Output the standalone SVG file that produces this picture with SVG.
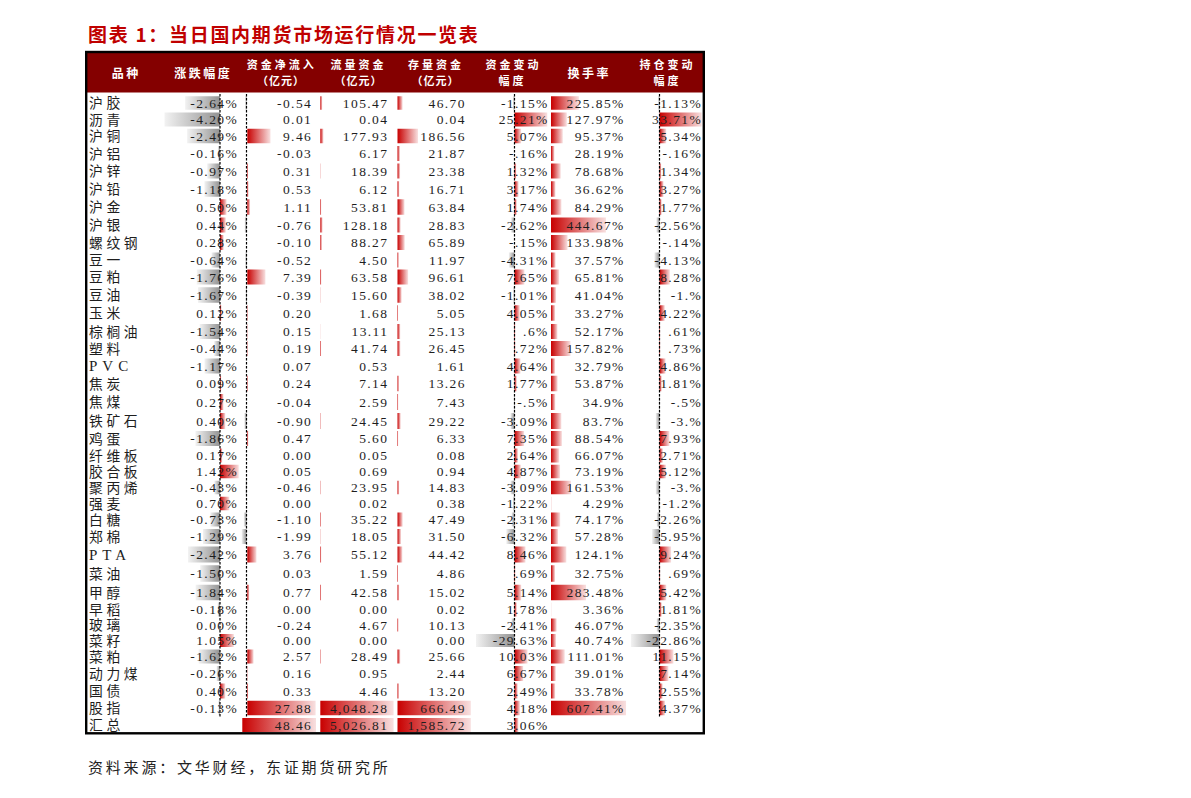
<svg xmlns="http://www.w3.org/2000/svg" width="1191" height="798" viewBox="0 0 1191 798">
<defs>
<linearGradient id="gr" x1="0" y1="0" x2="1" y2="0"><stop offset="0" stop-color="#C80000"/><stop offset="1" stop-color="#F8E0E0"/></linearGradient>
<linearGradient id="gg" x1="0" y1="0" x2="1" y2="0"><stop offset="0" stop-color="#F2F2F2"/><stop offset="1" stop-color="#929292"/></linearGradient>
</defs>
<style>
.r{fill:url(#gr)}
.g{fill:url(#gg)}
.t{font-family:"Liberation Serif",serif;font-size:13.5px;letter-spacing:1.4px;fill:#1e1e1e;text-anchor:end}
.n{font-family:"Liberation Serif","Noto Sans CJK SC",sans-serif;font-size:13.8px;letter-spacing:3.6px;fill:#1e1e1e}
.p{font-family:"Liberation Serif",serif;font-size:15px;letter-spacing:5px;fill:#1e1e1e}
.h{font-family:"Noto Sans CJK SC",sans-serif;font-size:12px;font-weight:700;letter-spacing:2.5px;fill:#fff;text-anchor:middle}
.h2{font-family:"Noto Sans CJK SC",sans-serif;font-size:11px;font-weight:700;letter-spacing:3px;fill:#fff;text-anchor:middle}
.hp{font-family:"Noto Sans CJK SC",sans-serif;font-size:11px;font-weight:700;letter-spacing:1px;fill:#fff;text-anchor:middle}
.ax{stroke:#000;stroke-width:1.2;stroke-dasharray:2.5 1.5;fill:none}
</style>
<rect width="1191" height="798" fill="#fff"/>
<text id="title" x="88" y="42" style="font-family:'Noto Sans CJK SC',sans-serif;font-size:19px;font-weight:700;letter-spacing:1.7px;fill:#C00000">图表 1：当日国内期货市场运行情况一览表</text>

<g id="header">
<rect x="86" y="52" width="618" height="40.5" fill="#840000"/>
<text class="h" x="126.2" y="77.5">品种</text>
<text class="h" x="203.2" y="77.5">涨跌幅度</text>
<text class="h2" x="281.8" y="68.5">资金净流入</text>
<text class="hp" x="281" y="84.5">（亿元）</text>
<text class="h2" x="358.5" y="68.5">流量资金</text>
<text class="hp" x="358.5" y="84.5">（亿元）</text>
<text class="h2" x="436" y="68.5">存量资金</text>
<text class="hp" x="435.5" y="84.5">（亿元）</text>
<text class="h2" x="513.5" y="68.5">资金变动</text>
<text class="h2" x="512.5" y="84.5">幅度</text>
<text class="h" x="589.2" y="77.5">换手率</text>
<text class="h2" x="667.5" y="68.5">持仓变动</text>
<text class="h2" x="667.5" y="84.5">幅度</text>
</g>

<g id="r01" transform="translate(0,103)">
<rect class="g" x="185.15" y="-6.75" width="34.85" height="13.5"/><rect class="g" x="245.2" y="-6.75" width="1.3" height="13.5"/><rect class="r" x="320.3" y="-6.75" width="1.91" height="13.5"/><rect class="r" x="397.5" y="-6.75" width="5.14" height="13.5"/><rect class="g" x="513" y="-6.75" width="1.5" height="13.5"/><rect class="r" x="551" y="-6.75" width="27.89" height="13.5"/><rect class="g" x="658.1" y="-6.75" width="1.41" height="13.5"/>
<text class="n" x="89" y="5.3">沪胶</text><text class="t" x="238.1" y="4.6">-2.64%</text><text class="t" x="312.2" y="4.6">-0.54</text><text class="t" x="388.4" y="4.6">105.47</text><text class="t" x="465.9" y="4.6">46.70</text><text class="t" x="548.7" y="4.6">-1.15%</text><text class="t" x="624.7" y="4.6">225.85%</text><text class="t" x="702.1" y="4.6">-1.13%</text>
</g>
<g id="r02" transform="translate(0,119.5)">
<rect class="g" x="164.56" y="-7" width="55.44" height="14"/><rect class="r" x="514.5" y="-7" width="32.77" height="14"/><rect class="r" x="551" y="-7" width="15.8" height="14"/><rect class="r" x="659.5" y="-7" width="42.14" height="14"/>
<text class="n" x="89" y="5.3">沥青</text><text class="t" x="238.1" y="4.6">-4.20%</text><text class="t" x="312.2" y="4.6">0.01</text><text class="t" x="388.4" y="4.6">0.04</text><text class="t" x="465.9" y="4.6">0.04</text><text class="t" x="548.7" y="4.6">25.21%</text><text class="t" x="624.7" y="4.6">127.97%</text><text class="t" x="702.1" y="4.6">33.71%</text>
</g>
<g id="r03" transform="translate(0,136)">
<rect class="g" x="187.13" y="-7.25" width="32.87" height="14.5"/><rect class="r" x="247.3" y="-7.25" width="23.18" height="14.5"/><rect class="r" x="320.3" y="-7.25" width="3.22" height="14.5"/><rect class="r" x="397.5" y="-7.25" width="20.52" height="14.5"/><rect class="r" x="514.5" y="-7.25" width="6.59" height="14.5"/><rect class="r" x="551" y="-7.25" width="11.78" height="14.5"/><rect class="r" x="659.5" y="-7.25" width="6.68" height="14.5"/>
<text class="n" x="89" y="5.3">沪铜</text><text class="t" x="238.1" y="4.6">-2.49%</text><text class="t" x="312.2" y="4.6">9.46</text><text class="t" x="388.4" y="4.6">177.93</text><text class="t" x="465.9" y="4.6">186.56</text><text class="t" x="548.7" y="4.6">5.07%</text><text class="t" x="624.7" y="4.6">95.37%</text><text class="t" x="702.1" y="4.6">5.34%</text>
</g>
<g id="r04" transform="translate(0,153.5)">
<rect class="g" x="217.89" y="-7.5" width="2.11" height="15"/><rect class="r" x="397.5" y="-7.5" width="2.41" height="15"/><rect class="r" x="551" y="-7.5" width="3.48" height="15"/>
<text class="n" x="89" y="5.3">沪铝</text><text class="t" x="238.1" y="4.6">-0.16%</text><text class="t" x="312.2" y="4.6">-0.03</text><text class="t" x="388.4" y="4.6">6.17</text><text class="t" x="465.9" y="4.6">21.87</text><text class="t" x="548.7" y="4.6">-.16%</text><text class="t" x="624.7" y="4.6">28.19%</text><text class="t" x="702.1" y="4.6">-.16%</text>
</g>
<g id="r05" transform="translate(0,171)">
<rect class="g" x="207.2" y="-7.5" width="12.8" height="15"/><rect class="r" x="247.3" y="-7.5" width="0.76" height="15"/><rect class="r" x="320.3" y="-7.5" width="0.33" height="15"/><rect class="r" x="397.5" y="-7.5" width="2.57" height="15"/><rect class="r" x="514.5" y="-7.5" width="1.72" height="15"/><rect class="r" x="551" y="-7.5" width="9.72" height="15"/><rect class="r" x="659.5" y="-7.5" width="1.68" height="15"/>
<text class="n" x="89" y="5.3">沪锌</text><text class="t" x="238.1" y="4.6">-0.97%</text><text class="t" x="312.2" y="4.6">0.31</text><text class="t" x="388.4" y="4.6">18.39</text><text class="t" x="465.9" y="4.6">23.38</text><text class="t" x="548.7" y="4.6">1.32%</text><text class="t" x="624.7" y="4.6">78.68%</text><text class="t" x="702.1" y="4.6">1.34%</text>
</g>
<g id="r06" transform="translate(0,189)">
<rect class="g" x="204.42" y="-7.75" width="15.58" height="15.5"/><rect class="r" x="247.3" y="-7.75" width="1.3" height="15.5"/><rect class="r" x="397.5" y="-7.75" width="1.84" height="15.5"/><rect class="r" x="514.5" y="-7.75" width="4.12" height="15.5"/><rect class="r" x="551" y="-7.75" width="4.52" height="15.5"/><rect class="r" x="659.5" y="-7.75" width="4.09" height="15.5"/>
<text class="n" x="89" y="5.3">沪铅</text><text class="t" x="238.1" y="4.6">-1.18%</text><text class="t" x="312.2" y="4.6">0.53</text><text class="t" x="388.4" y="4.6">6.12</text><text class="t" x="465.9" y="4.6">16.71</text><text class="t" x="548.7" y="4.6">3.17%</text><text class="t" x="624.7" y="4.6">36.62%</text><text class="t" x="702.1" y="4.6">3.27%</text>
</g>
<g id="r07" transform="translate(0,207)">
<rect class="r" x="220" y="-7.75" width="6.6" height="15.5"/><rect class="r" x="247.3" y="-7.75" width="2.72" height="15.5"/><rect class="r" x="320.3" y="-7.75" width="0.97" height="15.5"/><rect class="r" x="397.5" y="-7.75" width="7.02" height="15.5"/><rect class="r" x="514.5" y="-7.75" width="2.26" height="15.5"/><rect class="r" x="551" y="-7.75" width="10.41" height="15.5"/><rect class="r" x="659.5" y="-7.75" width="2.21" height="15.5"/>
<text class="n" x="89" y="5.3">沪金</text><text class="t" x="238.1" y="4.6">0.50%</text><text class="t" x="312.2" y="4.6">1.11</text><text class="t" x="388.4" y="4.6">53.81</text><text class="t" x="465.9" y="4.6">63.84</text><text class="t" x="548.7" y="4.6">1.74%</text><text class="t" x="624.7" y="4.6">84.29%</text><text class="t" x="702.1" y="4.6">1.77%</text>
</g>
<g id="r08" transform="translate(0,225)">
<rect class="r" x="220" y="-7.5" width="5.81" height="15"/><rect class="g" x="244.64" y="-7.5" width="1.86" height="15"/><rect class="r" x="320.3" y="-7.5" width="2.32" height="15"/><rect class="r" x="397.5" y="-7.5" width="3.17" height="15"/><rect class="g" x="511.09" y="-7.5" width="3.41" height="15"/><rect class="r" x="551" y="-7.5" width="54.92" height="15"/><rect class="g" x="656.3" y="-7.5" width="3.2" height="15"/>
<text class="n" x="89" y="5.3">沪银</text><text class="t" x="238.1" y="4.6">0.44%</text><text class="t" x="312.2" y="4.6">-0.76</text><text class="t" x="388.4" y="4.6">128.18</text><text class="t" x="465.9" y="4.6">28.83</text><text class="t" x="548.7" y="4.6">-2.62%</text><text class="t" x="624.7" y="4.6">444.67%</text><text class="t" x="702.1" y="4.6">-2.56%</text>
</g>
<g id="r09" transform="translate(0,242.5)">
<rect class="r" x="220" y="-7.5" width="3.7" height="15"/><rect class="r" x="320.3" y="-7.5" width="1.6" height="15"/><rect class="r" x="397.5" y="-7.5" width="7.25" height="15"/><rect class="r" x="551" y="-7.5" width="16.55" height="15"/>
<text class="n" x="89" y="5.3">螺纹钢</text><text class="t" x="238.1" y="4.6">0.28%</text><text class="t" x="312.2" y="4.6">-0.10</text><text class="t" x="388.4" y="4.6">88.27</text><text class="t" x="465.9" y="4.6">65.89</text><text class="t" x="548.7" y="4.6">-.15%</text><text class="t" x="624.7" y="4.6">133.98%</text><text class="t" x="702.1" y="4.6">-.14%</text>
</g>
<g id="r10" transform="translate(0,260)">
<rect class="g" x="211.55" y="-7.5" width="8.45" height="15"/><rect class="g" x="245.25" y="-7.5" width="1.25" height="15"/><rect class="r" x="397.5" y="-7.5" width="1.32" height="15"/><rect class="g" x="508.9" y="-7.5" width="5.6" height="15"/><rect class="r" x="551" y="-7.5" width="4.64" height="15"/><rect class="g" x="654.34" y="-7.5" width="5.16" height="15"/>
<text class="n" x="89" y="5.3">豆一</text><text class="t" x="238.1" y="4.6">-0.64%</text><text class="t" x="312.2" y="4.6">-0.52</text><text class="t" x="388.4" y="4.6">4.50</text><text class="t" x="465.9" y="4.6">11.97</text><text class="t" x="548.7" y="4.6">-4.31%</text><text class="t" x="624.7" y="4.6">37.57%</text><text class="t" x="702.1" y="4.6">-4.13%</text>
</g>
<g id="r11" transform="translate(0,277)">
<rect class="g" x="196.77" y="-7.5" width="23.23" height="15"/><rect class="r" x="247.3" y="-7.5" width="18.11" height="15"/><rect class="r" x="320.3" y="-7.5" width="1.15" height="15"/><rect class="r" x="397.5" y="-7.5" width="10.63" height="15"/><rect class="r" x="514.5" y="-7.5" width="9.95" height="15"/><rect class="r" x="551" y="-7.5" width="8.13" height="15"/><rect class="r" x="659.5" y="-7.5" width="10.35" height="15"/>
<text class="n" x="89" y="5.3">豆粕</text><text class="t" x="238.1" y="4.6">-1.76%</text><text class="t" x="312.2" y="4.6">7.39</text><text class="t" x="388.4" y="4.6">63.58</text><text class="t" x="465.9" y="4.6">96.61</text><text class="t" x="548.7" y="4.6">7.65%</text><text class="t" x="624.7" y="4.6">65.81%</text><text class="t" x="702.1" y="4.6">8.28%</text>
</g>
<g id="r12" transform="translate(0,295)">
<rect class="g" x="197.96" y="-7.75" width="22.04" height="15.5"/><rect class="g" x="245.56" y="-7.75" width="0.94" height="15.5"/><rect class="r" x="320.3" y="-7.75" width="0.3" height="15.5"/><rect class="r" x="397.5" y="-7.75" width="4.18" height="15.5"/><rect class="g" x="513.19" y="-7.75" width="1.31" height="15.5"/><rect class="r" x="551" y="-7.75" width="5.07" height="15.5"/><rect class="g" x="658.25" y="-7.75" width="1.25" height="15.5"/>
<text class="n" x="89" y="5.3">豆油</text><text class="t" x="238.1" y="4.6">-1.67%</text><text class="t" x="312.2" y="4.6">-0.39</text><text class="t" x="388.4" y="4.6">15.60</text><text class="t" x="465.9" y="4.6">38.02</text><text class="t" x="548.7" y="4.6">-1.01%</text><text class="t" x="624.7" y="4.6">41.04%</text><text class="t" x="702.1" y="4.6">-1.%</text>
</g>
<g id="r13" transform="translate(0,313)">
<rect class="r" x="220" y="-7.75" width="1.58" height="15.5"/><rect class="r" x="247.3" y="-7.75" width="0.49" height="15.5"/><rect class="r" x="397.5" y="-7.75" width="0.56" height="15.5"/><rect class="r" x="514.5" y="-7.75" width="5.27" height="15.5"/><rect class="r" x="551" y="-7.75" width="4.11" height="15.5"/><rect class="r" x="659.5" y="-7.75" width="5.28" height="15.5"/>
<text class="n" x="89" y="5.3">玉米</text><text class="t" x="238.1" y="4.6">0.12%</text><text class="t" x="312.2" y="4.6">0.20</text><text class="t" x="388.4" y="4.6">1.68</text><text class="t" x="465.9" y="4.6">5.05</text><text class="t" x="548.7" y="4.6">4.05%</text><text class="t" x="624.7" y="4.6">33.27%</text><text class="t" x="702.1" y="4.6">4.22%</text>
</g>
<g id="r14" transform="translate(0,331.5)">
<rect class="g" x="199.67" y="-7.5" width="20.33" height="15"/><rect class="r" x="247.3" y="-7.5" width="0.37" height="15"/><rect class="r" x="320.3" y="-7.5" width="0.24" height="15"/><rect class="r" x="397.5" y="-7.5" width="2.76" height="15"/><rect class="r" x="514.5" y="-7.5" width="0.78" height="15"/><rect class="r" x="551" y="-7.5" width="6.44" height="15"/><rect class="r" x="659.5" y="-7.5" width="0.76" height="15"/>
<text class="n" x="89" y="5.3">棕榈油</text><text class="t" x="238.1" y="4.6">-1.54%</text><text class="t" x="312.2" y="4.6">0.15</text><text class="t" x="388.4" y="4.6">13.11</text><text class="t" x="465.9" y="4.6">25.13</text><text class="t" x="548.7" y="4.6">.6%</text><text class="t" x="624.7" y="4.6">52.17%</text><text class="t" x="702.1" y="4.6">.61%</text>
</g>
<g id="r15" transform="translate(0,348.5)">
<rect class="g" x="214.19" y="-7.5" width="5.81" height="15"/><rect class="r" x="247.3" y="-7.5" width="0.47" height="15"/><rect class="r" x="320.3" y="-7.5" width="0.76" height="15"/><rect class="r" x="397.5" y="-7.5" width="2.91" height="15"/><rect class="r" x="514.5" y="-7.5" width="0.94" height="15"/><rect class="r" x="551" y="-7.5" width="19.49" height="15"/><rect class="r" x="659.5" y="-7.5" width="0.91" height="15"/>
<text class="n" x="89" y="5.3">塑料</text><text class="t" x="238.1" y="4.6">-0.44%</text><text class="t" x="312.2" y="4.6">0.19</text><text class="t" x="388.4" y="4.6">41.74</text><text class="t" x="465.9" y="4.6">26.45</text><text class="t" x="548.7" y="4.6">.72%</text><text class="t" x="624.7" y="4.6">157.82%</text><text class="t" x="702.1" y="4.6">.73%</text>
</g>
<g id="r16" transform="translate(0,366)">
<rect class="g" x="204.56" y="-7.5" width="15.44" height="15"/><rect class="r" x="514.5" y="-7.5" width="6.03" height="15"/><rect class="r" x="551" y="-7.5" width="4.05" height="15"/><rect class="r" x="659.5" y="-7.5" width="6.08" height="15"/>
<text class="p" x="89" y="5">PVC</text><text class="t" x="238.1" y="4.6">-1.17%</text><text class="t" x="312.2" y="4.6">0.07</text><text class="t" x="388.4" y="4.6">0.53</text><text class="t" x="465.9" y="4.6">1.61</text><text class="t" x="548.7" y="4.6">4.64%</text><text class="t" x="624.7" y="4.6">32.79%</text><text class="t" x="702.1" y="4.6">4.86%</text>
</g>
<g id="r17" transform="translate(0,383.5)">
<rect class="r" x="220" y="-7.75" width="1.19" height="15.5"/><rect class="r" x="247.3" y="-7.75" width="0.59" height="15.5"/><rect class="r" x="397.5" y="-7.75" width="1.46" height="15.5"/><rect class="r" x="514.5" y="-7.75" width="2.3" height="15.5"/><rect class="r" x="551" y="-7.75" width="6.65" height="15.5"/><rect class="r" x="659.5" y="-7.75" width="2.26" height="15.5"/>
<text class="n" x="89" y="5.3">焦炭</text><text class="t" x="238.1" y="4.6">0.09%</text><text class="t" x="312.2" y="4.6">0.24</text><text class="t" x="388.4" y="4.6">7.14</text><text class="t" x="465.9" y="4.6">13.26</text><text class="t" x="548.7" y="4.6">1.77%</text><text class="t" x="624.7" y="4.6">53.87%</text><text class="t" x="702.1" y="4.6">1.81%</text>
</g>
<g id="r18" transform="translate(0,402)">
<rect class="r" x="220" y="-8" width="3.56" height="16"/><rect class="r" x="397.5" y="-8" width="0.82" height="16"/><rect class="g" x="513.85" y="-8" width="0.65" height="16"/><rect class="r" x="551" y="-8" width="4.31" height="16"/><rect class="g" x="658.87" y="-8" width="0.63" height="16"/>
<text class="n" x="89" y="5.3">焦煤</text><text class="t" x="238.1" y="4.6">0.27%</text><text class="t" x="312.2" y="4.6">-0.04</text><text class="t" x="388.4" y="4.6">2.59</text><text class="t" x="465.9" y="4.6">7.43</text><text class="t" x="548.7" y="4.6">-.5%</text><text class="t" x="624.7" y="4.6">34.9%</text><text class="t" x="702.1" y="4.6">-.5%</text>
</g>
<g id="r19" transform="translate(0,421)">
<rect class="r" x="220" y="-8" width="5.28" height="16"/><rect class="g" x="244.29" y="-8" width="2.21" height="16"/><rect class="r" x="320.3" y="-8" width="0.44" height="16"/><rect class="r" x="397.5" y="-8" width="3.21" height="16"/><rect class="g" x="510.48" y="-8" width="4.02" height="16"/><rect class="r" x="551" y="-8" width="10.34" height="16"/><rect class="g" x="655.75" y="-8" width="3.75" height="16"/>
<text class="n" x="89" y="5.3">铁矿石</text><text class="t" x="238.1" y="4.6">0.40%</text><text class="t" x="312.2" y="4.6">-0.90</text><text class="t" x="388.4" y="4.6">24.45</text><text class="t" x="465.9" y="4.6">29.22</text><text class="t" x="548.7" y="4.6">-3.09%</text><text class="t" x="624.7" y="4.6">83.7%</text><text class="t" x="702.1" y="4.6">-3.%</text>
</g>
<g id="r20" transform="translate(0,438.5)">
<rect class="g" x="195.45" y="-7.5" width="24.55" height="15"/><rect class="r" x="247.3" y="-7.5" width="1.15" height="15"/><rect class="r" x="397.5" y="-7.5" width="0.7" height="15"/><rect class="r" x="514.5" y="-7.5" width="9.56" height="15"/><rect class="r" x="551" y="-7.5" width="10.93" height="15"/><rect class="r" x="659.5" y="-7.5" width="9.91" height="15"/>
<text class="n" x="89" y="5.3">鸡蛋</text><text class="t" x="238.1" y="4.6">-1.86%</text><text class="t" x="312.2" y="4.6">0.47</text><text class="t" x="388.4" y="4.6">5.60</text><text class="t" x="465.9" y="4.6">6.33</text><text class="t" x="548.7" y="4.6">7.35%</text><text class="t" x="624.7" y="4.6">88.54%</text><text class="t" x="702.1" y="4.6">7.93%</text>
</g>
<g id="r21" transform="translate(0,455.5)">
<rect class="r" x="220" y="-7" width="2.24" height="14"/><rect class="r" x="514.5" y="-7" width="3.43" height="14"/><rect class="r" x="551" y="-7" width="8.16" height="14"/><rect class="r" x="659.5" y="-7" width="3.39" height="14"/>
<text class="n" x="89" y="5.3">纤维板</text><text class="t" x="238.1" y="4.6">0.17%</text><text class="t" x="312.2" y="4.6">0.00</text><text class="t" x="388.4" y="4.6">0.05</text><text class="t" x="465.9" y="4.6">0.08</text><text class="t" x="548.7" y="4.6">2.64%</text><text class="t" x="624.7" y="4.6">66.07%</text><text class="t" x="702.1" y="4.6">2.71%</text>
</g>
<g id="r22" transform="translate(0,471.5)">
<rect class="r" x="220" y="-6.75" width="18.74" height="13.5"/><rect class="r" x="514.5" y="-6.75" width="6.33" height="13.5"/><rect class="r" x="551" y="-6.75" width="9.04" height="13.5"/><rect class="r" x="659.5" y="-6.75" width="6.4" height="13.5"/>
<text class="n" x="89" y="5.3">胶合板</text><text class="t" x="238.1" y="4.6">1.42%</text><text class="t" x="312.2" y="4.6">0.05</text><text class="t" x="388.4" y="4.6">0.69</text><text class="t" x="465.9" y="4.6">0.94</text><text class="t" x="548.7" y="4.6">4.87%</text><text class="t" x="624.7" y="4.6">73.19%</text><text class="t" x="702.1" y="4.6">5.12%</text>
</g>
<g id="r23" transform="translate(0,487.5)">
<rect class="g" x="214.32" y="-6.75" width="5.68" height="13.5"/><rect class="g" x="245.37" y="-6.75" width="1.13" height="13.5"/><rect class="r" x="320.3" y="-6.75" width="0.43" height="13.5"/><rect class="r" x="397.5" y="-6.75" width="1.63" height="13.5"/><rect class="g" x="510.48" y="-6.75" width="4.02" height="13.5"/><rect class="r" x="551" y="-6.75" width="19.95" height="13.5"/><rect class="g" x="655.75" y="-6.75" width="3.75" height="13.5"/>
<text class="n" x="89" y="5.3">聚丙烯</text><text class="t" x="238.1" y="4.6">-0.43%</text><text class="t" x="312.2" y="4.6">-0.46</text><text class="t" x="388.4" y="4.6">23.95</text><text class="t" x="465.9" y="4.6">14.83</text><text class="t" x="548.7" y="4.6">-3.09%</text><text class="t" x="624.7" y="4.6">161.53%</text><text class="t" x="702.1" y="4.6">-3.%</text>
</g>
<g id="r24" transform="translate(0,503.5)">
<rect class="r" x="220" y="-6.75" width="9.24" height="13.5"/><rect class="g" x="512.91" y="-6.75" width="1.59" height="13.5"/><rect class="r" x="551" y="-6.75" width="0.53" height="13.5"/><rect class="g" x="658" y="-6.75" width="1.5" height="13.5"/>
<text class="n" x="89" y="5.3">强麦</text><text class="t" x="238.1" y="4.6">0.70%</text><text class="t" x="312.2" y="4.6">0.00</text><text class="t" x="388.4" y="4.6">0.02</text><text class="t" x="465.9" y="4.6">0.38</text><text class="t" x="548.7" y="4.6">-1.22%</text><text class="t" x="624.7" y="4.6">4.29%</text><text class="t" x="702.1" y="4.6">-1.2%</text>
</g>
<g id="r25" transform="translate(0,519.5)">
<rect class="g" x="210.36" y="-7" width="9.64" height="14"/><rect class="g" x="243.86" y="-7" width="2.64" height="14"/><rect class="r" x="320.3" y="-7" width="0.64" height="14"/><rect class="r" x="397.5" y="-7" width="5.22" height="14"/><rect class="g" x="511.5" y="-7" width="3" height="14"/><rect class="r" x="551" y="-7" width="9.16" height="14"/><rect class="g" x="656.67" y="-7" width="2.83" height="14"/>
<text class="n" x="89" y="5.3">白糖</text><text class="t" x="238.1" y="4.6">-0.73%</text><text class="t" x="312.2" y="4.6">-1.10</text><text class="t" x="388.4" y="4.6">35.22</text><text class="t" x="465.9" y="4.6">47.49</text><text class="t" x="548.7" y="4.6">-2.31%</text><text class="t" x="624.7" y="4.6">74.17%</text><text class="t" x="702.1" y="4.6">-2.26%</text>
</g>
<g id="r26" transform="translate(0,536.5)">
<rect class="g" x="202.97" y="-7.5" width="17.03" height="15"/><rect class="g" x="241.72" y="-7.5" width="4.78" height="15"/><rect class="r" x="320.3" y="-7.5" width="0.33" height="15"/><rect class="r" x="397.5" y="-7.5" width="3.47" height="15"/><rect class="g" x="506.28" y="-7.5" width="8.22" height="15"/><rect class="r" x="551" y="-7.5" width="7.07" height="15"/><rect class="g" x="652.06" y="-7.5" width="7.44" height="15"/>
<text class="n" x="89" y="5.3">郑棉</text><text class="t" x="238.1" y="4.6">-1.29%</text><text class="t" x="312.2" y="4.6">-1.99</text><text class="t" x="388.4" y="4.6">18.05</text><text class="t" x="465.9" y="4.6">31.50</text><text class="t" x="548.7" y="4.6">-6.32%</text><text class="t" x="624.7" y="4.6">57.28%</text><text class="t" x="702.1" y="4.6">-5.95%</text>
</g>
<g id="r27" transform="translate(0,554.5)">
<rect class="g" x="188.06" y="-8" width="31.94" height="16"/><rect class="r" x="247.3" y="-8" width="9.21" height="16"/><rect class="r" x="320.3" y="-8" width="1" height="16"/><rect class="r" x="397.5" y="-8" width="4.89" height="16"/><rect class="r" x="514.5" y="-8" width="11" height="16"/><rect class="r" x="551" y="-8" width="15.33" height="16"/><rect class="r" x="659.5" y="-8" width="11.55" height="16"/>
<text class="p" x="89" y="5">PTA</text><text class="t" x="238.1" y="4.6">-2.42%</text><text class="t" x="312.2" y="4.6">3.76</text><text class="t" x="388.4" y="4.6">55.12</text><text class="t" x="465.9" y="4.6">44.42</text><text class="t" x="548.7" y="4.6">8.46%</text><text class="t" x="624.7" y="4.6">124.1%</text><text class="t" x="702.1" y="4.6">9.24%</text>
</g>
<g id="r28" transform="translate(0,573.5)">
<rect class="g" x="200.2" y="-8.25" width="19.8" height="16.5"/><rect class="r" x="397.5" y="-8.25" width="0.53" height="16.5"/><rect class="r" x="514.5" y="-8.25" width="0.9" height="16.5"/><rect class="r" x="551" y="-8.25" width="4.04" height="16.5"/><rect class="r" x="659.5" y="-8.25" width="0.86" height="16.5"/>
<text class="n" x="89" y="5.3">菜油</text><text class="t" x="238.1" y="4.6">-1.50%</text><text class="t" x="312.2" y="4.6">0.03</text><text class="t" x="388.4" y="4.6">1.59</text><text class="t" x="465.9" y="4.6">4.86</text><text class="t" x="548.7" y="4.6">.69%</text><text class="t" x="624.7" y="4.6">32.75%</text><text class="t" x="702.1" y="4.6">.69%</text>
</g>
<g id="r29" transform="translate(0,592.5)">
<rect class="g" x="195.71" y="-7.75" width="24.29" height="15.5"/><rect class="r" x="247.3" y="-7.75" width="1.89" height="15.5"/><rect class="r" x="320.3" y="-7.75" width="0.77" height="15.5"/><rect class="r" x="397.5" y="-7.75" width="1.65" height="15.5"/><rect class="r" x="514.5" y="-7.75" width="6.68" height="15.5"/><rect class="r" x="551" y="-7.75" width="35.01" height="15.5"/><rect class="r" x="659.5" y="-7.75" width="6.78" height="15.5"/>
<text class="n" x="89" y="5.3">甲醇</text><text class="t" x="238.1" y="4.6">-1.84%</text><text class="t" x="312.2" y="4.6">0.77</text><text class="t" x="388.4" y="4.6">42.58</text><text class="t" x="465.9" y="4.6">15.02</text><text class="t" x="548.7" y="4.6">5.14%</text><text class="t" x="624.7" y="4.6">283.48%</text><text class="t" x="702.1" y="4.6">5.42%</text>
</g>
<g id="r30" transform="translate(0,609.5)">
<rect class="g" x="217.62" y="-7" width="2.38" height="14"/><rect class="r" x="514.5" y="-7" width="2.31" height="14"/><rect class="r" x="551" y="-7" width="0.41" height="14"/><rect class="r" x="659.5" y="-7" width="2.26" height="14"/>
<text class="n" x="89" y="5.3">早稻</text><text class="t" x="238.1" y="4.6">-0.18%</text><text class="t" x="312.2" y="4.6">0.00</text><text class="t" x="388.4" y="4.6">0.00</text><text class="t" x="465.9" y="4.6">0.02</text><text class="t" x="548.7" y="4.6">1.78%</text><text class="t" x="624.7" y="4.6">3.36%</text><text class="t" x="702.1" y="4.6">1.81%</text>
</g>
<g id="r31" transform="translate(0,625)">
<rect class="g" x="245.92" y="-6.5" width="0.58" height="13"/><rect class="r" x="397.5" y="-6.5" width="1.11" height="13"/><rect class="g" x="511.37" y="-6.5" width="3.13" height="13"/><rect class="r" x="551" y="-6.5" width="5.69" height="13"/><rect class="g" x="656.56" y="-6.5" width="2.94" height="13"/>
<text class="n" x="89" y="5.3">玻璃</text><text class="t" x="238.1" y="4.6">0.00%</text><text class="t" x="312.2" y="4.6">-0.24</text><text class="t" x="388.4" y="4.6">4.67</text><text class="t" x="465.9" y="4.6">10.13</text><text class="t" x="548.7" y="4.6">-2.41%</text><text class="t" x="624.7" y="4.6">46.07%</text><text class="t" x="702.1" y="4.6">-2.35%</text>
</g>
<g id="r32" transform="translate(0,640.5)">
<rect class="r" x="220" y="-6.5" width="13.86" height="13"/><rect class="g" x="475.98" y="-6.5" width="38.52" height="13"/><rect class="r" x="551" y="-6.5" width="5.03" height="13"/><rect class="g" x="630.92" y="-6.5" width="28.58" height="13"/>
<text class="n" x="89" y="5.3">菜籽</text><text class="t" x="238.1" y="4.6">1.05%</text><text class="t" x="312.2" y="4.6">0.00</text><text class="t" x="388.4" y="4.6">0.00</text><text class="t" x="465.9" y="4.6">0.00</text><text class="t" x="548.7" y="4.6">-29.63%</text><text class="t" x="624.7" y="4.6">40.74%</text><text class="t" x="702.1" y="4.6">-22.86%</text>
</g>
<g id="r33" transform="translate(0,656.5)">
<rect class="g" x="198.62" y="-7" width="21.38" height="14"/><rect class="r" x="247.3" y="-7" width="6.3" height="14"/><rect class="r" x="320.3" y="-7" width="0.52" height="14"/><rect class="r" x="397.5" y="-7" width="2.82" height="14"/><rect class="r" x="514.5" y="-7" width="13.04" height="14"/><rect class="r" x="551" y="-7" width="13.71" height="14"/><rect class="r" x="659.5" y="-7" width="13.94" height="14"/>
<text class="n" x="89" y="5.3">菜粕</text><text class="t" x="238.1" y="4.6">-1.62%</text><text class="t" x="312.2" y="4.6">2.57</text><text class="t" x="388.4" y="4.6">28.49</text><text class="t" x="465.9" y="4.6">25.66</text><text class="t" x="548.7" y="4.6">10.03%</text><text class="t" x="624.7" y="4.6">111.01%</text><text class="t" x="702.1" y="4.6">11.15%</text>
</g>
<g id="r34" transform="translate(0,673.5)">
<rect class="g" x="216.57" y="-7.5" width="3.43" height="15"/><rect class="r" x="247.3" y="-7.5" width="0.39" height="15"/><rect class="r" x="514.5" y="-7.5" width="8.67" height="15"/><rect class="r" x="551" y="-7.5" width="4.82" height="15"/><rect class="r" x="659.5" y="-7.5" width="8.93" height="15"/>
<text class="n" x="89" y="5.3">动力煤</text><text class="t" x="238.1" y="4.6">-0.26%</text><text class="t" x="312.2" y="4.6">0.16</text><text class="t" x="388.4" y="4.6">0.95</text><text class="t" x="465.9" y="4.6">2.44</text><text class="t" x="548.7" y="4.6">6.67%</text><text class="t" x="624.7" y="4.6">39.01%</text><text class="t" x="702.1" y="4.6">7.14%</text>
</g>
<g id="r35" transform="translate(0,691)">
<rect class="r" x="220" y="-7.5" width="5.28" height="15"/><rect class="r" x="247.3" y="-7.5" width="0.81" height="15"/><rect class="r" x="397.5" y="-7.5" width="1.45" height="15"/><rect class="r" x="514.5" y="-7.5" width="3.24" height="15"/><rect class="r" x="551" y="-7.5" width="4.17" height="15"/><rect class="r" x="659.5" y="-7.5" width="3.19" height="15"/>
<text class="n" x="89" y="5.3">国债</text><text class="t" x="238.1" y="4.6">0.40%</text><text class="t" x="312.2" y="4.6">0.33</text><text class="t" x="388.4" y="4.6">4.46</text><text class="t" x="465.9" y="4.6">13.20</text><text class="t" x="548.7" y="4.6">2.49%</text><text class="t" x="624.7" y="4.6">33.78%</text><text class="t" x="702.1" y="4.6">2.55%</text>
</g>
<g id="r36" transform="translate(0,708)">
<rect class="g" x="218.28" y="-7.25" width="1.72" height="14.5"/><rect class="r" x="247.3" y="-7.25" width="68.31" height="14.5"/><rect class="r" x="320.3" y="-7.25" width="73.27" height="14.5"/><rect class="r" x="397.5" y="-7.25" width="73.31" height="14.5"/><rect class="r" x="514.5" y="-7.25" width="5.43" height="14.5"/><rect class="r" x="551" y="-7.25" width="75.02" height="14.5"/><rect class="r" x="659.5" y="-7.25" width="5.46" height="14.5"/>
<text class="n" x="89" y="5.3">股指</text><text class="t" x="238.1" y="4.6">-0.13%</text><text class="t" x="312.2" y="4.6">27.88</text><text class="t" x="388.4" y="4.6">4,048.28</text><text class="t" x="465.9" y="4.6">666.49</text><text class="t" x="548.7" y="4.6">4.18%</text><text class="t" x="624.7" y="4.6">607.41%</text><text class="t" x="702.1" y="4.6">4.37%</text>
</g>
<g id="r37" transform="translate(0,725)">
<rect class="r" x="242.3" y="-7" width="73.7" height="14"/><rect class="r" x="320.3" y="-7" width="73.3" height="14"/><rect class="r" x="397.5" y="-7" width="73.3" height="14"/><rect class="r" x="514.5" y="-7" width="3.98" height="14"/>
<text class="n" x="89" y="5.3">汇总</text><text class="t" x="312.2" y="4.6">48.46</text><text class="t" x="388.4" y="4.6">5,026.81</text><text class="t" x="465.9" y="4.6">1,585.72</text><text class="t" x="548.7" y="4.6">3.06%</text>
</g>

<g id="connectors">
<line class="ax" x1="220" y1="94" x2="220" y2="716.5"/>
<line class="ax" x1="246.5" y1="94" x2="246.5" y2="716.5"/>
<line class="ax" x1="514.5" y1="94" x2="514.5" y2="732.5"/>
<line class="ax" x1="659.5" y1="94" x2="659.5" y2="716.5"/>
</g>

<rect id="frame" x="86.2" y="52" width="617.6" height="681.3" fill="none" stroke="#000" stroke-width="2.4"/>
<text id="source" x="88" y="773" style="font-family:'Noto Sans CJK SC',sans-serif;font-size:15px;letter-spacing:2.8px;fill:#222">资料来源：文华财经，东证期货研究所</text>
</svg>
